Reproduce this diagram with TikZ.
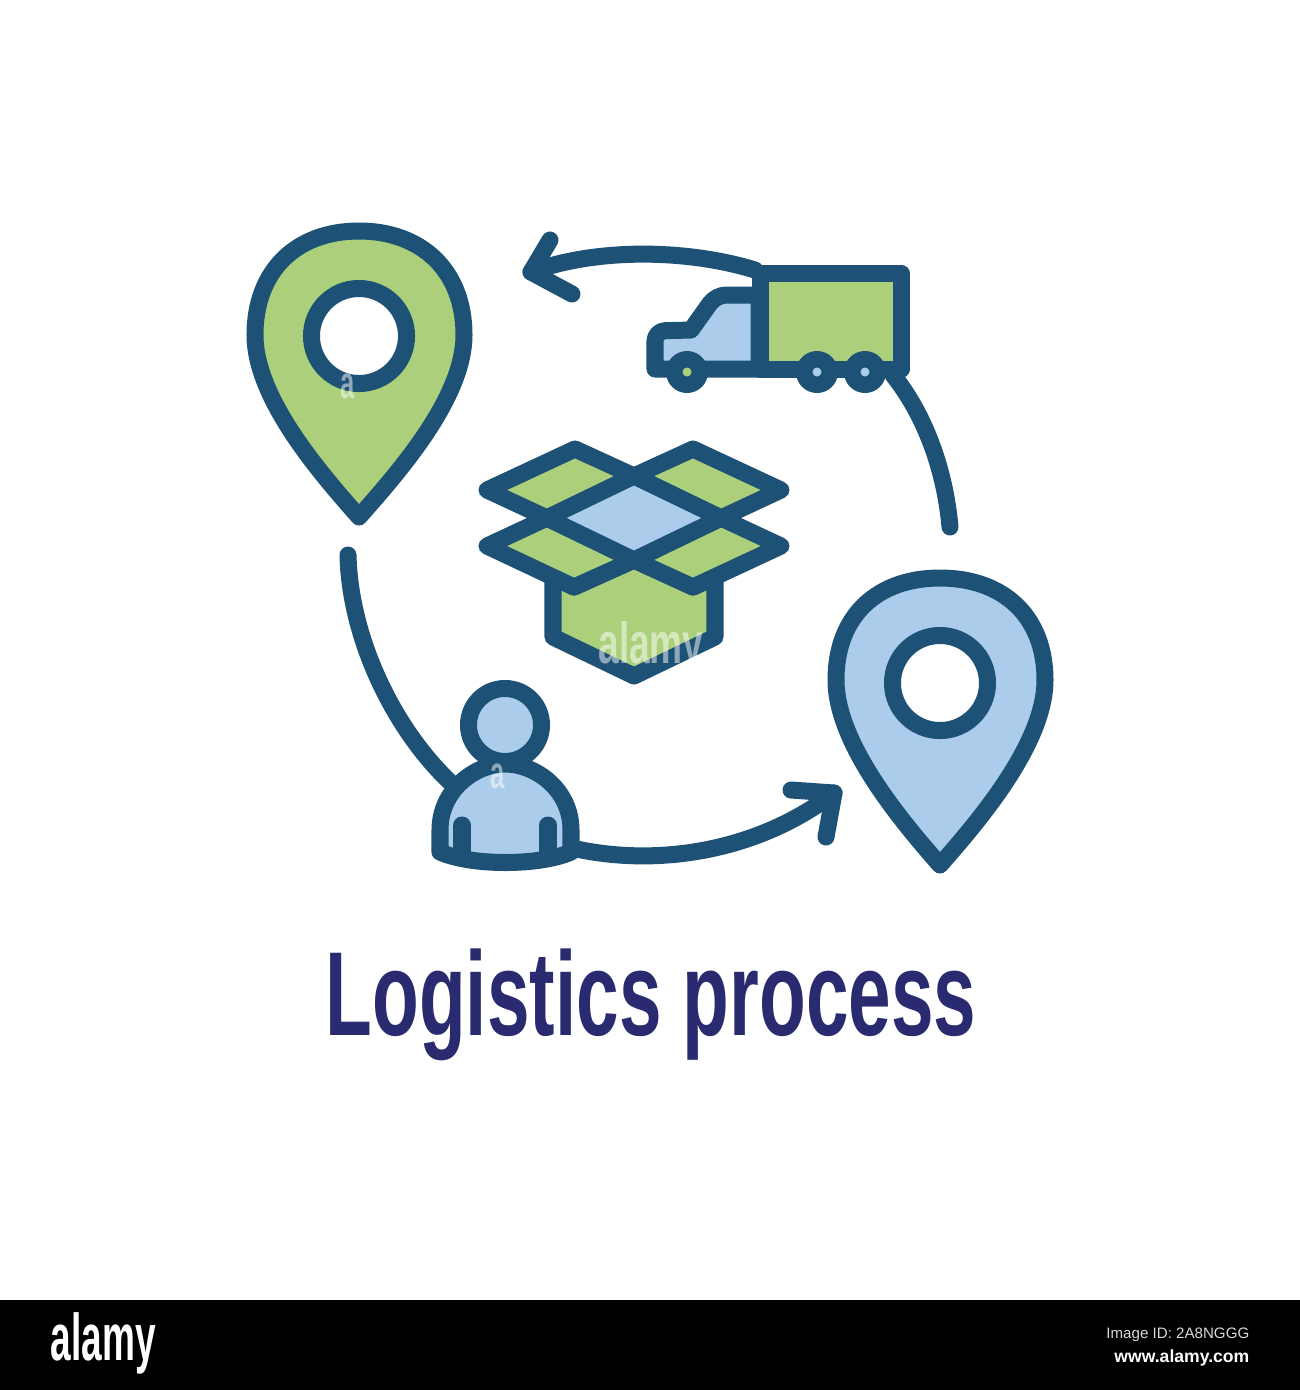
\documentclass[tikz,border=0pt]{standalone}
\usepackage{fontspec}
\newfontfamily\titlefont[FakeStretch=0.64]{Liberation Sans}
\newfontfamily\brandfont[FakeStretch=0.56]{Liberation Sans}
\newfontfamily\footfont{Liberation Sans}
\usetikzlibrary{positioning}
\definecolor{inkblue}{HTML}{1D5276}
\definecolor{leafgreen}{HTML}{ABCF7A}
\definecolor{skyblue}{HTML}{ABCDEB}
\definecolor{titlenavy}{HTML}{2A2A70}
\tikzset{
    x=0.01cm, y=-0.01cm, % one unit is one pixel of the picture
    iconline/.style={draw=inkblue, line width=0.17cm, line join=round, line cap=round},
    greenpart/.style={iconline, fill=leafgreen},
    bluepart/.style={iconline, fill=skyblue},
    linkline/.style={iconline, fill=none},
    ring/.style={circle, iconline, inner sep=0pt, minimum size=#1},
    wheel/.style={circle, fill=inkblue, inner sep=0pt, minimum size=0.42cm},
    hub/.style={circle, fill=#1, inner sep=0pt, minimum size=0.09cm},
    stamp/.style={text=white, text opacity=0.5, inner sep=0pt},
}

\begin{document}
\begin{tikzpicture}
    \useasboundingbox (0,0) rectangle (1300,1390);
    \fill[white] (0,0) rectangle (1300,1390);
    \fill[black] (0,1300) rectangle (1300,1390);

    % ends of the connectors
    \coordinate (truckback) at (755,270);
    \coordinate (tipa) at (531,272);
    \coordinate (barba) at (550,240);
    \coordinate (barbb) at (572,294);
    \coordinate (truckfront) at (893,375);
    \coordinate (pinbtop) at (950,527);
    \coordinate (pinabottom) at (348,555);
    \coordinate (personleft) at (450,782);
    \coordinate (personright) at (572,848);
    \coordinate (tipb) at (834,793);
    \coordinate (barbc) at (791,790);
    \coordinate (barbd) at (826,837);

    \draw[linkline] (truckback) .. controls (690,250) and (600,247) .. (tipa);
    \draw[linkline] (barba) -- (tipa) -- (barbb);
    \draw[linkline] (truckfront) .. controls (925,415) and (945,470) .. (pinbtop);
    \draw[linkline] (pinabottom) .. controls (350,640) and (395,730) .. (personleft);
    \draw[linkline] (personright) .. controls (660,868) and (760,850) .. (tipb);
    \draw[linkline] (barbc) -- (tipb) -- (barbd);

    % green pin
    \draw[greenpart] (359,517) .. controls (324,477) and (255,400) .. (255,335)
        .. controls (255,270) and (297,231) .. (359,231)
        .. controls (421,231) and (464,270) .. (464,335)
        .. controls (464,400) and (394,477) .. (359,517) -- cycle;
    \node[ring=0.95cm, fill=white] (holea) at (359,336) {};

    % blue pin
    \draw[bluepart] (940,865) .. controls (905,825) and (836,745) .. (836,680)
        .. controls (836,615) and (878,578) .. (940,578)
        .. controls (1002,578) and (1045,615) .. (1045,680)
        .. controls (1045,745) and (975,825) .. (940,865) -- cycle;
    \node[ring=0.95cm, fill=white] (holeb) at (940,683) {};

    % truck
    \draw[bluepart] (759,295) [rounded corners=0.1cm] -- (716,295) [sharp corners] -- (691,330) [rounded corners=0.1cm] -- (655,331) [sharp corners] -- (655,369) -- (759,369) -- cycle;
    \draw[greenpart] (760,273) rectangle (901,369);
    \node[wheel] (wheela) at (687,372) {};
    \node[wheel] (wheelb) at (817,372) {};
    \node[wheel] (wheelc) at (865,372) {};
    \node[hub=leafgreen] (huba) at (wheela) {};
    \node[hub=skyblue] (hubb) at (wheelb) {};
    \node[hub=skyblue] (hubc) at (wheelc) {};

    % open box
    \draw[greenpart] (634,560) -- (574,587) -- (553,577) -- (553,637) -- (634,676) -- (715,637) -- (715,577) -- (693,587) -- cycle;
    \draw[greenpart] (575,449) -- (487,490) -- (547,518) -- (634,476) -- cycle;
    \draw[greenpart] (693,449) -- (781,490) -- (721,518) -- (634,476) -- cycle;
    \draw[greenpart] (487,546) -- (574,587) -- (634,560) -- (547,518) -- cycle;
    \draw[greenpart] (781,546) -- (693,587) -- (634,560) -- (721,518) -- cycle;
    \draw[bluepart] (634,476) -- (721,518) -- (634,560) -- (547,518) -- cycle;

    % person
    \node[ring=0.73cm, fill=skyblue] (head) at (505,725) {};
    \draw[bluepart] (440,852) -- (440,830) .. controls (440,790) and (475,764) .. (505,764)
        .. controls (536,764) and (571,790) .. (571,830) -- (571,852)
        .. controls (540,866) and (471,866) .. (440,852) -- cycle;
    \coordinate (armat) at (462,825);
    \coordinate (armab) at (462,856);
    \coordinate (armbt) at (548,825);
    \coordinate (armbb) at (548,856);
    \draw[iconline] (armat) -- (armab);
    \draw[iconline] (armbt) -- (armbb);

    % stamps over the icons
    \begin{scope}
        \clip (590,610) rectangle (708,666);
        \node[stamp, font=\titlefont\bfseries\fontsize{16.5}{17}\selectfont] (stampbox) at (651,648) {alamy};
    \end{scope}
    \node[stamp, font=\brandfont\bfseries\fontsize{13}{13}\selectfont] (stampa) at (348,386) {a};
    \node[stamp, font=\brandfont\bfseries\fontsize{13}{13}\selectfont] (stampb) at (498,776) {a};

    \node[text=titlenavy, font=\titlefont\bfseries\fontsize{34}{34}\selectfont, anchor=base] (title) at (651,1035) {Logistics process};

    \node[text=white, font=\brandfont\bfseries\fontsize{18.8}{19}\selectfont, anchor=base west, inner sep=0pt] (brand) at (50,1360) {alamy};
    \node[text=white!85!black, font=\footfont\fontsize{4.3}{5}\selectfont, anchor=base east, inner sep=0pt] (imageid) at (1250,1338) {Image ID: 2A8NGGG};
    \node[text=white, font=\footfont\bfseries\fontsize{5}{6}\selectfont, anchor=base east, inner sep=0pt] (weblink) at (1250,1362) {www.alamy.com};
\end{tikzpicture}
\end{document}
